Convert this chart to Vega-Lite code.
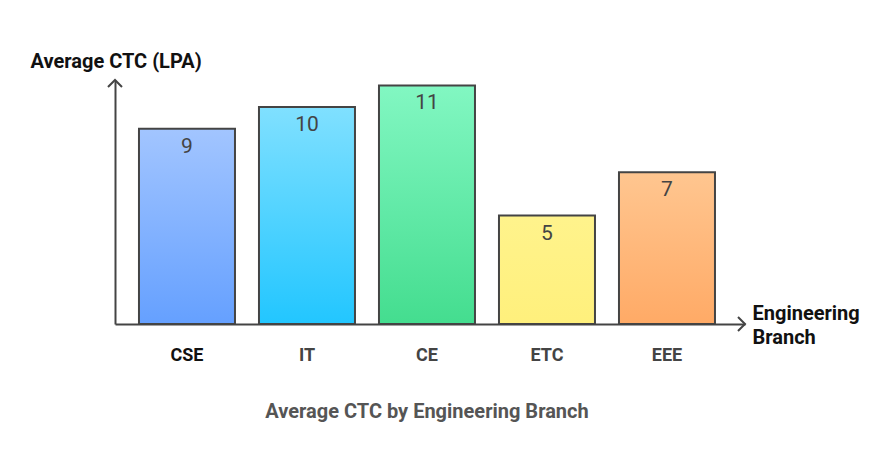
{
  "$schema": "https://vega.github.io/schema/vega-lite/v6.json",
  "autosize": "none",
  "width": 630,
  "height": 244,
  "padding": {"left": 115, "top": 80, "right": 151, "bottom": 147},
  "background": "white",
  "config": {"view": {"stroke": null}, "font": "Roboto"},
  "title": {
    "text": "Average CTC by Engineering Branch",
    "orient": "bottom",
    "anchor": "middle",
    "font": "Roboto",
    "fontSize": 20,
    "fontWeight": "bold",
    "color": "#555555",
    "offset": 38,
    "dx": -3
  },
  "datasets": {
    "branches": [
      {"branch": "CSE", "ctc": 9},
      {"branch": "IT", "ctc": 10},
      {"branch": "CE", "ctc": 11},
      {"branch": "ETC", "ctc": 5},
      {"branch": "EEE", "ctc": 7}
    ],
    "arrows": [
      {"dir": "right", "px": 1, "py": 0},
      {"dir": "up", "px": 0, "py": 1}
    ]
  },
  "layer": [
    {
      "data": {"name": "branches"},
      "encoding": {
        "x": {
          "field": "branch",
          "type": "nominal",
          "sort": null,
          "scale": {"paddingInner": 0.2, "paddingOuter": 0.225, "align": 0.444},
          "axis": {
            "title": ["Engineering", "Branch"],
            "titleX": 637,
            "titleY": -5,
            "titleAlign": "left",
            "titleBaseline": "alphabetic",
            "titleAngle": 0,
            "titleFont": "Roboto",
            "titleFontSize": 20,
            "titleFontWeight": "bold",
            "titleColor": "#111111",
            "titleLineHeight": 24,
            "labelAngle": 0,
            "labelFont": "Roboto",
            "labelFontSize": 18,
            "labelFontWeight": "bold",
            "labelColor": {"expr": "datum.value == 'CSE' ? '#111111' : '#444444'"},
            "labelPadding": 22,
            "ticks": false,
            "domainColor": "#444444",
            "domainWidth": 2
          }
        },
        "y": {
          "field": "ctc",
          "type": "quantitative",
          "scale": {"domain": [0, 11.25], "nice": false, "zero": true},
          "axis": {
            "title": "Average CTC (LPA)",
            "titleX": -85,
            "titleY": -19,
            "titleAlign": "left",
            "titleBaseline": "middle",
            "titleAngle": 0,
            "titleFont": "Roboto",
            "titleFontSize": 20,
            "titleFontWeight": "bold",
            "titleColor": "#111111",
            "labels": false,
            "ticks": false,
            "grid": false,
            "domainColor": "#444444",
            "domainWidth": 2
          }
        }
      },
      "layer": [
        {
          "mark": {"type": "bar", "stroke": "#444444", "strokeWidth": 2},
          "encoding": {
            "fill": {
              "condition": [
                {"test": "datum.branch == 'CSE'", "value": {"gradient": "linear", "x1": 0, "y1": 0, "x2": 0, "y2": 1, "stops": [{"offset": 0, "color": "#a2c5ff"}, {"offset": 1, "color": "#65a0ff"}]}},
                {"test": "datum.branch == 'IT'", "value": {"gradient": "linear", "x1": 0, "y1": 0, "x2": 0, "y2": 1, "stops": [{"offset": 0, "color": "#80e0ff"}, {"offset": 1, "color": "#22c6ff"}]}},
                {"test": "datum.branch == 'CE'", "value": {"gradient": "linear", "x1": 0, "y1": 0, "x2": 0, "y2": 1, "stops": [{"offset": 0, "color": "#82f7c2"}, {"offset": 1, "color": "#44dd8f"}]}},
                {"test": "datum.branch == 'ETC'", "value": {"gradient": "linear", "x1": 0, "y1": 0, "x2": 0, "y2": 1, "stops": [{"offset": 0, "color": "#fff38c"}, {"offset": 1, "color": "#fff07c"}]}}
              ],
              "value": {"gradient": "linear", "x1": 0, "y1": 0, "x2": 0, "y2": 1, "stops": [{"offset": 0, "color": "#ffc690"}, {"offset": 1, "color": "#ffaa66"}]}
            }
          }
        },
        {
          "mark": {"type": "text", "baseline": "middle", "align": "center", "dy": 18, "font": "Roboto", "fontSize": 21, "color": "#444444"},
          "encoding": {
            "text": {"field": "ctc", "type": "quantitative"}
          }
        }
      ]
    },
    {
      "data": {"name": "arrows"},
      "mark": {"type": "point", "filled": false, "stroke": "#444444", "strokeWidth": 2, "size": 196, "opacity": 1},
      "encoding": {
        "x": {"field": "px", "type": "quantitative", "scale": {"domain": [0, 1], "nice": false}, "axis": null},
        "y": {"field": "py", "type": "quantitative", "scale": {"domain": [0, 1], "nice": false}, "axis": null},
        "shape": {
          "field": "dir",
          "type": "nominal",
          "scale": {"domain": ["right", "up"], "range": ["M -1 -1 L 0 0 L -1 1", "M -1 1 L 0 0 L 1 1"]},
          "legend": null
        }
      }
    }
  ],
  "resolve": {"scale": {"x": "independent", "y": "independent"}, "axis": {"x": "independent", "y": "independent"}}
}
